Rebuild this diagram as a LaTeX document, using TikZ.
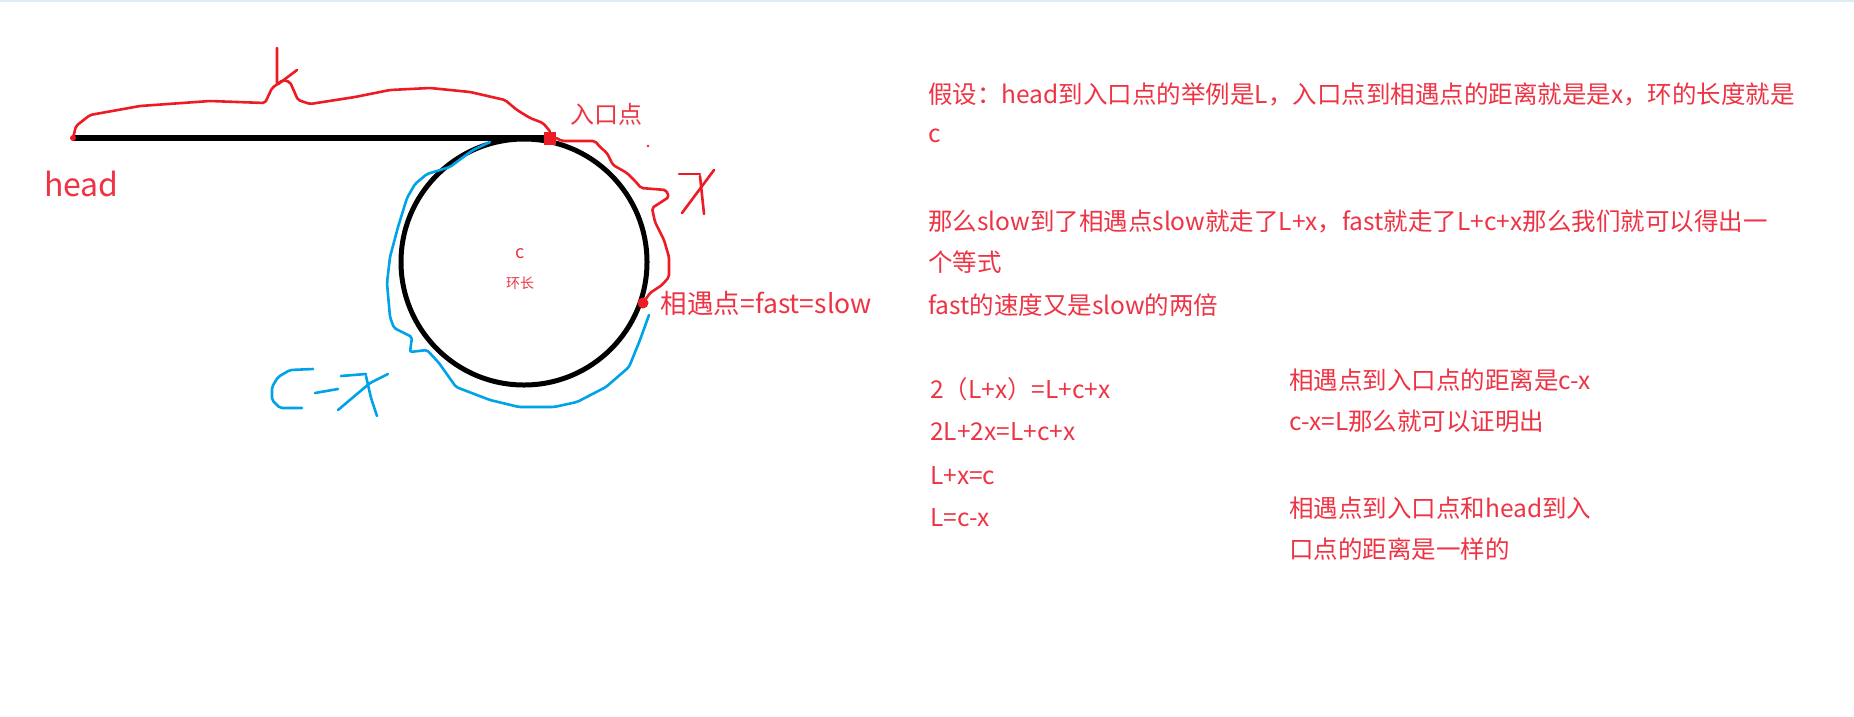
\documentclass[tikz,border=0pt]{standalone}
\usepackage{fontspec}
\setmainfont{Noto Sans CJK SC}
\usetikzlibrary{positioning}

\definecolor{inkred}{RGB}{237,28,36}
\definecolor{inkblue}{RGB}{0,162,232}
\definecolor{txtred}{RGB}{238,52,68}
\definecolor{topband}{RGB}{220,236,240}

\tikzset{
  redpen/.style={draw=inkred, line width=2.6pt, line join=round, line cap=round, rounded corners=2pt},
  bluepen/.style={draw=inkblue, line width=2.6pt, line join=round, line cap=round, rounded corners=2pt},
  note/.style={text=txtred, font=\fontsize{24.5}{24.5}\selectfont, inner sep=0pt, anchor=base west},
  lbl/.style={text=txtred, inner sep=0pt, anchor=west},
  pointmark/.style={fill=inkred, inner sep=0pt},
}

\begin{document}
\begin{tikzpicture}[x=1pt,y=-1pt]
  \useasboundingbox (0,0) rectangle (1854,716);
  \fill[white] (0,0) rectangle (1854,716);
  \draw[topband, line width=2.5pt] (0,1) -- (1854,1);

  % list with a loop
  \node[circle, draw=black, line width=5pt, minimum size=246pt, inner sep=0pt] (loop) at (524,262) {};
  \coordinate (headpt) at (73,138);
  \coordinate (entrypt) at (550,138);
  \coordinate (meetpt) at (643,303);
  \draw[line width=5.5pt] (headpt) -- (entrypt);
  \node[pointmark, minimum width=12pt, minimum height=13pt] (entry) at (entrypt) {};
  \node[pointmark, circle, minimum size=11pt] (meet) at (meetpt) {};
  \fill[inkred] (headpt) circle (3pt);

  \node[lbl, font=\fontsize{32}{32}\selectfont] (headlbl) at (44,184) {head};
  \node[lbl, font=\fontsize{24}{24}\selectfont, above right=6pt and 20pt of entry.north, anchor=south west] (entrylbl) {入口点};
  \node[lbl, font=\fontsize{26.5}{26.5}\selectfont, right=12pt of meet] (meetlbl) {相遇点=fast=slow};
  \node[text=txtred, font=\fontsize{18}{18}\selectfont, inner sep=0pt] (clbl) at (520,254) {c};
  \node[text=txtred, font=\fontsize{14}{14}\selectfont, inner sep=0pt, below=17pt of clbl] (looplbl) {环长};

  % hand drawn marks
  \draw[redpen] (headpt) -- (76,126) -- (90,115) -- (140,106) -- (210,101) -- (265,103)
    -- (272,88) -- (283,80) -- (290,82) -- (298,100) -- (310,104) -- (355,97) -- (390,90)
    -- (430,88) -- (470,92) -- (505,100) -- (517,110) -- (530,118) -- (543,123) -- (entry.north);
  \draw[redpen] (277,48) -- (277,85) -- (297,70);
  \draw[redpen] (entry.east) -- (562,141) -- (595,141) -- (600,147) -- (607,153) -- (613,165)
    -- (627,173) -- (636,182) -- (641,188) -- (666,190) -- (669,197) -- (652,208) -- (655,222)
    -- (664,240) -- (669,257) -- (669,277) -- (662,285) -- (650,293) -- (meet);
  \draw[redpen] (679,174) -- (700,174);
  \draw[redpen] (714,170) -- (682,213);
  \draw[redpen] (700,176) -- (704,214);
  \fill[inkred] (648,146) circle (1.3pt);

  \draw[bluepen] (490,142) -- (473,150) -- (462,158) -- (450,167) -- (427,174) -- (415,184)
    -- (407,198) -- (398,227) -- (390,257) -- (387,283) -- (390,317) -- (394,328) -- (412,337)
    -- (410,352) -- (427,350) -- (439,363) -- (456,387) -- (490,400) -- (519,407) -- (554,407)
    -- (577,402) -- (606,387) -- (629,367) -- (640,340) -- (649,315);
  \draw[bluepen] (313,369) -- (290,370) -- (278,377) -- (272,387) -- (272,400) -- (280,408) -- (302,408);
  \draw[bluepen] (315,393) -- (338,389);
  \draw[bluepen] (341,376) -- (366,374);
  \draw[bluepen] (388,374) -- (370,383) -- (338,410);
  \draw[bluepen] (366,376) -- (371,398) -- (377,416);

  % proof text
  \node[note] (t1) at (928,103) {假设：head到入口点的举例是L，入口点到相遇点的距离就是是x，环的长度就是};
  \node[note] (t2) at (928,142) {c};
  \node[note] (t3) at (928,230) {那么slow到了相遇点slow就走了L+x，fast就走了L+c+x那么我们就可以得出一};
  \node[note] (t4) at (928,271) {个等式};
  \node[note] (t5) at (928,314) {fast的速度又是slow的两倍};
  \node[note] (e1) at (930,398) {2（L+x）=L+c+x};
  \node[note] (e2) at (930,440) {2L+2x=L+c+x};
  \node[note] (e3) at (930,484) {L+x=c};
  \node[note] (e4) at (930,526) {L=c-x};
  \node[note] (r1) at (1289,389) {相遇点到入口点的距离是c-x};
  \node[note] (r2) at (1289,430) {c-x=L那么就可以证明出};
  \node[note] (r3) at (1289,517) {相遇点到入口点和head到入};
  \node[note] (r4) at (1289,558) {口点的距离是一样的};
\end{tikzpicture}
\end{document}
